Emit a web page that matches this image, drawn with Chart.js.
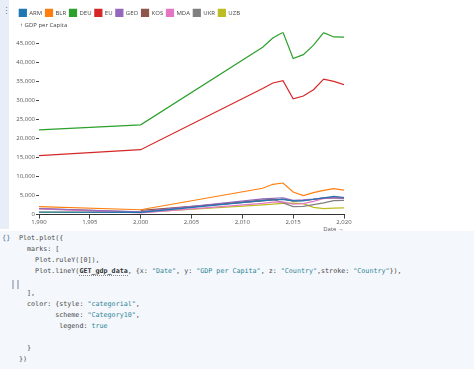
<!DOCTYPE html>
<html>
<head>
<meta charset="utf-8">
<script src="https://cdn.jsdelivr.net/npm/chart.js@4"></script>
<style>
  body { margin: 0; width: 474px; height: 369px; overflow: hidden; background: #fff; font-family: "Open Sans", sans-serif; }
  #gutter { position: absolute; left: 0; top: 0; width: 9px; height: 229px; background: #e7eef7; }
  #dots { position: absolute; left: 2px; top: 4px; font-size: 9px; color: #6c7f99; }
  #wrap { position: absolute; left: 0; top: 0; width: 474px; height: 234px; }
  #cell { position: absolute; left: 0; top: 231px; width: 474px; height: 138px; background: #f4f7fb; }
  #braces { position: absolute; left: 2px; top: 234px; font-size: 7px; color: #4f6f9a; font-family: "DejaVu Sans Mono", monospace; }
  #code { position: absolute; left: 19px; top: 233px; margin: 0; font-family: "DejaVu Sans Mono", monospace; font-size: 6.7px; line-height: 11px; color: #4a4a4a; }
  .s { color: #2f8595; }
  .b { color: #333; font-weight: bold; border-bottom: 1px dotted #888; }
  .bar { position: absolute; top: 280px; width: 1.5px; height: 9px; background: #b7bfcb; }
</style>
</head>
<body>
<div id="gutter"></div>
<div id="dots">⋮</div>
<div id="wrap"><canvas id="gdp-chart" width="474" height="234"></canvas></div>
<div id="cell"></div>
<div id="braces">{}</div>
<div class="bar" style="left:12px"></div>
<div class="bar" style="left:17px"></div>
<pre id="code">Plot.plot({
  marks: [
    Plot.ruleY([0]),
    Plot.lineY(<span class="b">GET_gdp_data</span>, {x: <span class="s">"Date"</span>, y: <span class="s">"GDP per Capita"</span>, z: <span class="s">"Country"</span>,stroke: <span class="s">"Country"</span>}),

  ],
  color: {style: <span class="s">"categorial"</span>,
         scheme: <span class="s">"Category10"</span>,
          legend: <span class="s">true</span>

  }
})</pre>
<script>
// Datos

let years = [1990, 2000, 2012, 2013, 2014, 2015, 2016, 2017, 2018, 2019, 2020];
let countries = ["ARM", "BLR", "DEU", "EU", "GEO", "KOS", "MDA", "UKR", "UZB"];
let colors = ["#1f77b4", "#ff7f0e", "#2ca02c", "#d62728", "#9467bd", "#8c564b", "#e377c2", "#7f7f7f", "#bcbd22"];

let arm = [640, 590, 3680, 3840, 3990, 3610, 3590, 4040, 4390, 4830, 4510];
let blr = [2100, 1280, 6940, 7980, 8320, 5950, 5020, 5790, 6360, 6840, 6420];
let deu = [22300, 23640, 44070, 46530, 48024, 41100, 42140, 44650, 47950, 46800, 46770];
let eu = [15530, 17100, 33200, 34660, 35260, 30530, 31240, 32900, 35710, 35080, 34210];
let geo = [1610, 750, 4140, 4270, 4440, 3760, 3860, 4060, 4360, 4450, 4260];
let kos = [null, 1090, 3600, 3880, 4060, 3520, 3730, 4010, 4380, 4420, 4310];
let mda = [1470, 440, 2980, 3280, 3350, 2730, 2880, 3500, 4230, 4500, 4520];
let ukr = [1570, 640, 3860, 4030, 3100, 2120, 2190, 2640, 3100, 3660, 3750];
let uzb = [650, 560, 2550, 2750, 2950, 3000, 2900, 1900, 1550, 1730, 1750];

let yTicks = [0, 5000, 10000, 15000, 20000, 25000, 30000, 35000, 40000, 45000];

let series = [arm, blr, deu, eu, geo, kos, mda, ukr, uzb];

let font = { family: "'Open Sans', sans-serif", size: 6 };

// Espacio debajo de la leyenda

const legendSpacer = {
  id: "legendSpacer",
  beforeInit(chart) {
    let fit = chart.legend.fit;
    chart.legend.fit = function () {
      fit.bind(chart.legend)();
      this.height += 6;
    };
  },
};

// Titulo del eje y

const yTitle = {
  id: "yTitle",
  afterDraw(chart) {
    let ctx = chart.ctx;
    ctx.save();
    ctx.font = "6px 'Open Sans', sans-serif";
    ctx.fillStyle = "#444";
    ctx.textBaseline = "middle";
    ctx.fillText("↑ GDP per Capita", 20, 25);
    ctx.restore();
  },
};

let ctx = document.getElementById("gdp-chart").getContext("2d");

new Chart(ctx, {
  type: "line",
  data: {
    datasets: countries.map((c, i) => ({
      label: c,
      data: years.map((y, j) => ({ x: y, y: series[i][j] })),
      borderColor: colors[i],
      backgroundColor: colors[i],
      borderWidth: 1.2,
      pointRadius: 0,
      tension: 0,
      fill: false,
    })),
  },
  options: {
    responsive: false,
    animation: false,
    layout: { padding: { left: 16, right: 130, top: 6, bottom: 1 } },
    plugins: {
      legend: {
        position: "top",
        align: "start",
        labels: {
          boxWidth: 7,
          boxHeight: 7,
          padding: 3.3,
          color: "#444",
          font: font,
        },
      },
      tooltip: { enabled: false },
    },
    scales: {
      x: {
        type: "linear",
        min: 1990,
        max: 2020,
        ticks: {
          stepSize: 5,
          maxRotation: 0,
          padding: 0,
          color: "#555",
          font: font,
          callback: (v) => v.toLocaleString("en-US"),
        },
        grid: { drawOnChartArea: false, tickLength: 4, color: "#444" },
        border: { color: "#333", width: 1 },
        title: {
          display: true,
          text: "Date →",
          align: "end",
          color: "#555",
          font: font,
          padding: 0,
        },
      },
      y: {
        min: 0,
        max: 48024,
        ticks: {
          stepSize: 5000,
          padding: 1,
          color: "#555",
          font: font,
          callback: (v) => v.toLocaleString("en-US"),
        },
        afterBuildTicks: (scale) => {
          scale.ticks = yTicks.map((v) => ({ value: v }));
        },
        afterFit: (scale) => {
          scale.width = 23;
        },
        grid: { drawOnChartArea: false, tickLength: 3, color: "#444" },
        border: { display: false },
      },
    },
  },
  plugins: [legendSpacer, yTitle],
});
</script>
</body>
</html>
